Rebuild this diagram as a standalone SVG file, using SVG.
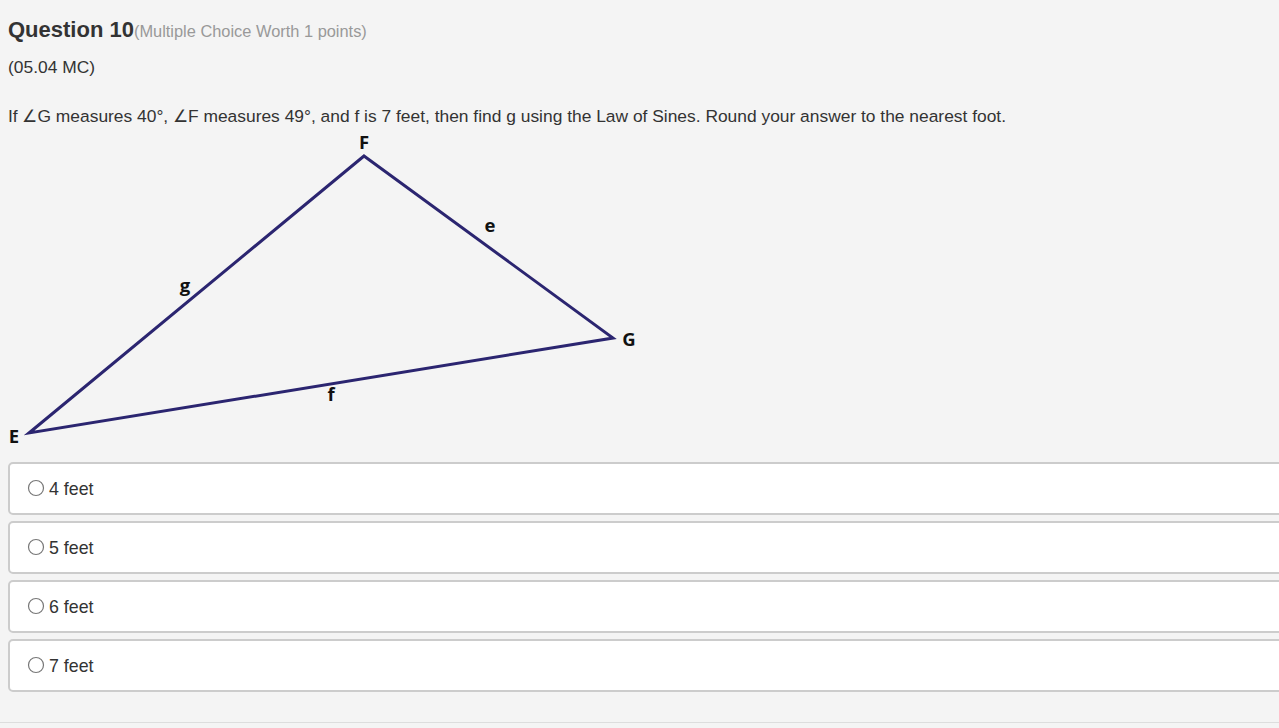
<svg xmlns="http://www.w3.org/2000/svg" width="1279" height="728" viewBox="0 0 1279 728">
<style>
.t{font-family:"Liberation Sans",Arial,sans-serif;fill:#333;font-size:17.4px}
.o{font-family:"Liberation Sans",Arial,sans-serif;fill:#333;font-size:17.8px}
.lbl{font-family:"Open Sans","DejaVu Sans",sans-serif;font-weight:700;font-size:18.5px;fill:#111}
.box{fill:#fff;stroke:#ccc;stroke-width:2}
.radio{fill:#fff;stroke:#777;stroke-width:1.2}
</style>
<rect x="0" y="0" width="1279" height="728" fill="#f4f4f4"/>
<line x1="0" y1="722.5" x2="1279" y2="722.5" stroke="#ddd" stroke-width="1"/>
<g id="header">
<text x="8" y="37" font-family="Liberation Sans,Arial,sans-serif" font-weight="700" font-size="22" fill="#333">Question 10<tspan font-weight="400" font-size="16.4" fill="#999">(Multiple Choice Worth 1 points)</tspan></text>
<text class="t" x="8" y="73" font-size="17.8">(05.04 MC)</text>
<text class="t" x="8" y="122">If ∠G measures 40°, ∠F measures 49°, and f is 7 feet, then find g using the Law of Sines. Round your answer to the nearest foot.</text>
</g>
<g id="triangle">
<polygon points="364,156 613,338 29,433" fill="none" stroke="#2b2570" stroke-width="3" stroke-linejoin="miter"/>
</g>
<g id="labels">
<text class="lbl" x="364" y="149" text-anchor="middle">F</text>
<text class="lbl" x="629" y="346" text-anchor="middle">G</text>
<text class="lbl" x="14" y="443" text-anchor="middle">E</text>
<text class="lbl" x="185" y="292" text-anchor="middle">g</text>
<text class="lbl" x="490" y="232" text-anchor="middle">e</text>
<text class="lbl" x="331" y="401" text-anchor="middle">f</text>
</g>
<g id="opt1"><rect class="box" x="9" y="463" width="1290" height="51" rx="4"/><circle class="radio" cx="36" cy="488" r="7.5"/><text class="o" x="49" y="495">4 feet</text></g>
<g id="opt2"><rect class="box" x="9" y="522" width="1290" height="51" rx="4"/><circle class="radio" cx="36" cy="547" r="7.5"/><text class="o" x="49" y="554">5 feet</text></g>
<g id="opt3"><rect class="box" x="9" y="581" width="1290" height="51" rx="4"/><circle class="radio" cx="36" cy="606" r="7.5"/><text class="o" x="49" y="613">6 feet</text></g>
<g id="opt4"><rect class="box" x="9" y="640" width="1290" height="51" rx="4"/><circle class="radio" cx="36" cy="665" r="7.5"/><text class="o" x="49" y="672">7 feet</text></g>
</svg>
